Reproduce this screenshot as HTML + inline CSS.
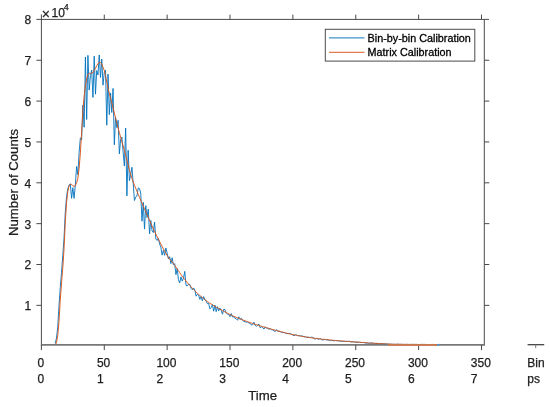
<!DOCTYPE html>
<html><head><meta charset="utf-8"><title>Calibration plot</title>
<style>html,body{margin:0;padding:0;background:#fff}body{width:550px;height:407px;overflow:hidden;position:relative}</style></head>
<body>
<svg width="550" height="407" viewBox="0 0 550 407" style="position:absolute;left:0;top:0">
<rect width="550" height="407" fill="#fff"/>
<polyline fill="none" stroke="#0072BD" stroke-width="0.9" stroke-linejoin="round" points="55.23,343.60 56.49,337.99 57.75,326.73 59.00,305.56 60.26,287.69 61.52,272.35 62.78,255.60 64.03,238.34 65.29,212.19 66.55,196.86 67.81,188.77 69.06,185.13 70.32,183.90 71.58,198.32 72.84,187.70 74.09,198.32 75.35,184.84 76.61,166.46 77.86,174.63 79.12,152.16 80.38,137.87 81.64,139.91 82.89,105.18 84.15,127.24 85.41,56.98 86.67,119.48 87.92,55.35 89.18,90.07 90.44,75.77 91.70,70.05 92.95,97.42 94.21,56.17 95.47,94.16 96.73,70.46 97.98,74.96 99.24,54.94 100.50,77.41 101.76,59.02 103.01,85.17 104.27,72.50 105.53,70.05 106.78,125.20 108.04,74.14 109.30,114.58 110.56,92.93 111.81,112.54 113.07,88.44 114.33,144.81 115.59,117.44 116.84,127.65 118.10,120.30 119.36,153.82 120.62,139.65 121.87,137.01 123.13,151.96 124.39,166.05 125.65,128.06 126.90,195.87 128.16,150.29 129.42,180.62 130.68,174.80 131.93,167.28 133.19,183.28 134.45,200.56 135.71,197.01 136.96,195.98 138.22,187.90 139.48,188.57 140.73,193.01 141.99,221.20 143.25,202.38 144.51,229.05 145.76,205.68 147.02,217.61 148.28,209.08 149.54,233.86 150.79,220.38 152.05,230.79 153.31,232.52 154.57,222.01 155.82,238.91 157.08,240.45 158.34,238.37 159.60,244.04 160.85,246.96 162.11,255.12 163.37,250.48 164.63,255.31 165.88,247.98 167.14,253.09 168.40,258.83 169.65,256.74 170.91,263.64 172.17,257.72 173.43,264.88 174.68,263.61 175.94,274.63 177.20,268.45 178.46,279.78 179.71,282.96 180.97,276.87 182.23,281.12 183.49,278.24 184.74,271.37 186.00,285.29 187.26,285.88 188.52,284.15 189.77,284.52 191.03,288.34 192.29,289.77 193.55,287.96 194.80,289.88 196.06,296.16 197.32,294.23 198.58,295.00 199.83,299.38 201.09,296.51 202.35,300.77 203.60,296.59 204.86,299.76 206.12,300.99 207.38,303.69 208.63,303.32 209.89,308.87 211.15,307.45 212.41,304.59 213.66,311.22 214.92,305.00 216.18,311.61 217.44,306.69 218.69,310.89 219.95,308.08 221.21,310.14 222.47,314.22 223.72,309.26 224.98,309.59 226.24,313.18 227.50,314.21 228.75,314.61 230.01,316.68 231.27,313.59 232.52,317.03 233.78,316.74 235.04,318.51 236.30,318.74 237.55,320.27 238.81,316.79 240.07,319.47 241.33,318.28 242.58,320.17 243.84,321.66 245.10,321.58 246.36,322.35 247.61,322.01 248.87,322.97 250.13,323.29 251.39,325.09 252.64,324.76 253.90,322.16 255.16,325.39 256.42,326.22 257.67,325.00 258.93,324.20 260.19,327.76 261.44,326.76 262.70,327.57 263.96,329.09 265.22,326.89 266.47,328.01 267.73,328.27 268.99,329.40 270.25,328.61 271.50,329.87 272.76,329.85 274.02,331.01 275.28,331.42 276.53,329.61 277.79,331.46 279.05,331.14 280.31,331.73 281.56,332.36 282.82,332.74 284.08,332.26 285.34,333.24 286.59,333.46 287.85,333.65 289.11,333.21 290.37,333.81 291.62,334.27 292.88,335.09 294.14,335.81 295.39,334.72 296.65,334.96 297.91,335.81 299.17,335.68 300.42,335.78 301.68,335.99 302.94,336.17 304.20,337.04 305.45,336.32 306.71,337.79 307.97,337.03 309.23,337.38 310.48,337.41 311.74,337.17 313.00,337.52 314.26,338.74 315.51,339.11 316.77,338.31 318.03,339.14 319.29,338.93 320.54,338.78 321.80,339.78 323.06,340.07 324.31,339.41 325.57,339.62 326.83,339.84 328.09,339.88 329.34,340.27 330.60,340.58 331.86,340.29 333.12,340.63 334.37,340.92 335.63,340.43 336.89,340.69 338.15,340.67 339.40,341.12 340.66,341.13 341.92,341.31 343.18,341.37 344.43,341.20 345.69,341.52 346.95,341.35 348.21,341.45 349.46,341.18 350.72,342.00 351.98,341.61 353.24,341.91 354.49,341.98 355.75,342.35 357.01,342.25 358.26,342.11 359.52,342.35 360.78,342.41 362.04,342.56 363.29,342.40 364.55,342.68 365.81,343.11 367.07,342.95 368.32,343.22 369.58,343.48 370.84,343.16 372.10,342.98 373.35,343.24 374.61,343.47 375.87,343.52 377.13,343.33 378.38,343.52 379.64,343.60 380.90,343.68 382.16,343.74 383.41,343.74 384.67,343.84 385.93,343.95 387.19,344.14 388.44,344.06 389.70,344.22 390.96,344.12 392.21,344.37 393.47,344.31 394.73,344.32 395.99,344.44 397.24,344.20 398.50,344.24 399.76,344.40 401.02,344.31 402.27,344.35 403.53,344.60 404.79,344.38 406.05,344.42 407.30,344.41 408.56,344.51 409.82,344.46 411.08,344.46 412.33,344.36 413.59,344.43 414.85,344.46 416.11,344.36 417.36,344.52 418.62,344.51 419.88,344.62 421.13,344.38 422.39,344.42 423.65,344.43 424.91,344.45 426.16,344.50 427.42,344.49 428.68,344.53 429.94,344.53 431.19,344.51 432.45,344.41 433.71,344.48 434.97,344.52 436.22,344.56 437.48,344.56 438.74,344.40 440.00,344.48"/>
<polyline fill="none" stroke="#D95319" stroke-width="0.95" stroke-linejoin="round" points="55.60,344.90 56.49,342.28 57.75,335.69 59.00,321.16 60.26,300.04 61.52,283.06 62.78,268.23 64.03,249.17 65.29,222.24 66.55,202.64 67.81,191.61 69.06,186.26 70.32,184.21 71.58,184.40 72.84,185.74 74.09,186.46 75.35,185.65 76.61,182.63 77.86,178.52 79.12,168.18 80.38,152.90 81.64,132.31 82.89,111.26 84.15,95.75 85.41,86.11 86.67,78.73 87.92,74.62 89.18,73.24 90.44,73.20 91.70,73.12 92.95,72.63 94.21,70.52 95.47,68.21 96.73,65.72 97.98,63.52 99.24,62.34 100.50,62.49 101.76,63.79 103.01,67.23 104.27,70.45 105.53,75.65 106.78,82.20 108.04,88.27 109.30,93.43 110.56,98.22 111.81,102.99 113.07,107.98 114.33,113.04 115.59,118.10 116.84,123.10 118.10,127.97 119.36,132.64 120.62,137.15 121.87,141.56 123.13,145.99 124.39,150.52 125.65,155.24 126.90,160.01 128.16,164.81 129.42,169.64 130.68,174.26 131.93,178.40 133.19,181.94 134.45,185.16 135.71,188.32 136.96,191.40 138.22,194.41 139.48,197.37 140.73,200.28 141.99,203.16 143.25,206.03 144.51,208.89 145.76,211.76 147.02,214.64 148.28,217.51 149.54,220.36 150.79,223.19 152.05,225.99 153.31,228.73 154.57,231.41 155.82,234.03 157.08,236.56 158.34,239.07 159.60,241.57 160.85,244.05 162.11,246.49 163.37,248.87 164.63,251.15 165.88,253.34 167.14,255.39 168.40,257.30 169.65,259.03 170.91,260.48 172.17,261.94 173.43,263.57 174.68,265.29 175.94,267.08 177.20,268.91 178.46,270.76 179.71,272.61 180.97,274.43 182.23,276.20 183.49,277.89 184.74,279.48 186.00,281.01 187.26,282.51 188.52,283.98 189.77,285.42 191.03,286.82 192.29,288.18 193.55,289.50 194.80,290.78 196.06,292.01 197.32,293.19 198.58,294.34 199.83,295.45 201.09,296.54 202.35,297.59 203.60,298.61 204.86,299.60 206.12,300.56 207.38,301.49 208.63,302.38 209.89,303.24 211.15,304.06 212.41,304.86 213.66,305.63 214.92,306.37 216.18,307.10 217.44,307.82 218.69,308.52 219.95,309.21 221.21,309.90 222.47,310.58 223.72,311.25 224.98,311.92 226.24,312.58 227.50,313.23 228.75,313.86 230.01,314.48 231.27,315.08 232.52,315.67 233.78,316.24 235.04,316.79 236.30,317.32 237.55,317.85 238.81,318.36 240.07,318.86 241.33,319.34 242.58,319.83 243.84,320.30 245.10,320.77 246.36,321.23 247.61,321.69 248.87,322.14 250.13,322.58 251.39,323.02 252.64,323.45 253.90,323.87 255.16,324.29 256.42,324.70 257.67,325.10 258.93,325.50 260.19,325.89 261.44,326.27 262.70,326.64 263.96,327.01 265.22,327.38 266.47,327.74 267.73,328.09 268.99,328.45 270.25,328.80 271.50,329.15 272.76,329.50 274.02,329.84 275.28,330.18 276.53,330.51 277.79,330.84 279.05,331.18 280.31,331.51 281.56,331.84 282.82,332.19 284.08,332.53 285.34,332.86 286.59,333.19 287.85,333.50 289.11,333.80 290.37,334.08 291.62,334.35 292.88,334.61 294.14,334.86 295.39,335.11 296.65,335.36 297.91,335.60 299.17,335.83 300.42,336.06 301.68,336.28 302.94,336.49 304.20,336.70 305.45,336.91 306.71,337.11 307.97,337.30 309.23,337.49 310.48,337.67 311.74,337.85 313.00,338.02 314.26,338.19 315.51,338.36 316.77,338.52 318.03,338.68 319.29,338.83 320.54,338.98 321.80,339.13 323.06,339.28 324.31,339.42 325.57,339.55 326.83,339.68 328.09,339.81 329.34,339.94 330.60,340.06 331.86,340.17 333.12,340.29 334.37,340.40 335.63,340.50 336.89,340.61 338.15,340.71 339.40,340.81 340.66,340.90 341.92,341.00 343.18,341.09 344.43,341.19 345.69,341.28 346.95,341.37 348.21,341.47 349.46,341.56 350.72,341.65 351.98,341.75 353.24,341.84 354.49,341.93 355.75,342.02 357.01,342.11 358.26,342.20 359.52,342.29 360.78,342.38 362.04,342.47 363.29,342.56 364.55,342.64 365.81,342.73 367.07,342.81 368.32,342.89 369.58,342.97 370.84,343.05 372.10,343.13 373.35,343.21 374.61,343.29 375.87,343.37 377.13,343.44 378.38,343.51 379.64,343.58 380.90,343.65 382.16,343.72 383.41,343.79 384.67,343.87 385.93,343.94 387.19,344.01 388.44,344.08 389.70,344.14 390.96,344.20 392.21,344.24 393.47,344.27 394.73,344.30 395.99,344.31 397.24,344.32 398.50,344.33 399.76,344.34 401.02,344.35 402.27,344.36 403.53,344.37 404.79,344.38 406.05,344.39 407.30,344.40 408.56,344.41 409.82,344.42 411.08,344.43 412.33,344.43 413.59,344.44 414.85,344.45 416.11,344.45 417.36,344.46 418.62,344.46 419.88,344.47 421.13,344.47 422.39,344.48 423.65,344.48 424.91,344.48 426.16,344.49 427.42,344.49 428.68,344.49 429.94,344.49 431.19,344.50 432.45,344.50 433.71,344.50 434.97,344.50 436.22,344.50 437.48,344.50"/>
<g stroke="#4a4a4a" stroke-width="1" fill="none" shape-rendering="auto">
<path d="M41.4 14.4V345.4"/>
<path d="M36.4 19.4H489.0"/>
<path d="M484.3 19.4V345.4"/>
</g>
<path d="M40.9 344.9H484.8" stroke="#787878" stroke-width="1.9" fill="none"/>
<g stroke="#4a4a4a" stroke-width="1" fill="none">
<path d="M41.40 344.9v5.2"/>
<path d="M104.27 344.9v5.2"/>
<path d="M104.27 19.4v-4.8"/>
<path d="M167.14 344.9v5.2"/>
<path d="M167.14 19.4v-4.8"/>
<path d="M230.01 344.9v5.2"/>
<path d="M230.01 19.4v-4.8"/>
<path d="M292.88 344.9v5.2"/>
<path d="M292.88 19.4v-4.8"/>
<path d="M355.75 344.9v5.2"/>
<path d="M355.75 19.4v-4.8"/>
<path d="M418.62 344.9v5.2"/>
<path d="M418.62 19.4v-4.8"/>
<path d="M481.49 344.9v5.2"/>
<path d="M481.49 19.4v-4.8"/>
<path d="M41.4 305.35h-5"/>
<path d="M484.3 305.35h5"/>
<path d="M41.4 264.50h-5"/>
<path d="M484.3 264.50h5"/>
<path d="M41.4 223.65h-5"/>
<path d="M484.3 223.65h5"/>
<path d="M41.4 182.80h-5"/>
<path d="M484.3 182.80h5"/>
<path d="M41.4 141.95h-5"/>
<path d="M484.3 141.95h5"/>
<path d="M41.4 101.10h-5"/>
<path d="M484.3 101.10h5"/>
<path d="M41.4 60.25h-5"/>
<path d="M484.3 60.25h5"/>
<path d="M527.6 344.7H544.2" stroke="#3c3c3c" stroke-width="1.25"/><path d="M535.7 344.7v3.4" stroke="#7a7a7a"/>
</g>
<path d="M388 344.9H437.2" stroke="#DF7743" stroke-width="1.5" fill="none"/>
<path d="M437.2 344.9H439.4" stroke="#3F9BE0" stroke-width="1.5" fill="none"/>
<rect x="325.3" y="29.3" width="149.5" height="31.8" fill="#fff" stroke="#4a4a4a" stroke-width="1"/>
<path d="M329 37.9H364.5" stroke="#0072BD" stroke-width="0.95"/>
<path d="M329 52.3H364.5" stroke="#D95319" stroke-width="0.95"/>
<g font-family="Liberation Sans, Arial, sans-serif" fill="#1c1c1c" stroke="#1c1c1c" stroke-width="0.25" font-size="12">
<text x="31.3" y="310.3" text-anchor="end">1</text>
<text x="31.3" y="269.4" text-anchor="end">2</text>
<text x="31.3" y="228.6" text-anchor="end">3</text>
<text x="31.3" y="187.8" text-anchor="end">4</text>
<text x="31.3" y="146.9" text-anchor="end">5</text>
<text x="31.3" y="106.0" text-anchor="end">6</text>
<text x="31.3" y="65.2" text-anchor="end">7</text>
<text x="31.3" y="24.3" text-anchor="end">8</text>
<text x="37.4" y="366.9">0</text>
<text x="37.4" y="382.5">0</text>
<text x="96.9" y="366.9">50</text>
<text x="96.9" y="382.5">1</text>
<text x="156.4" y="366.9">100</text>
<text x="156.4" y="382.5">2</text>
<text x="219.3" y="366.9">150</text>
<text x="219.3" y="382.5">3</text>
<text x="282.2" y="366.9">200</text>
<text x="282.2" y="382.5">4</text>
<text x="345.0" y="366.9">250</text>
<text x="345.0" y="382.5">5</text>
<text x="407.9" y="366.9">300</text>
<text x="407.9" y="382.5">6</text>
<text x="470.8" y="366.9">350</text>
<text x="470.8" y="382.5">7</text>
<text x="527.3" y="366.9">Bin</text><text x="527.3" y="382.5">ps</text>
<text x="41.8" y="19.0" font-size="14">×</text><text x="51.5" y="16.6">10</text><text x="63.8" y="10.3" font-size="9">4</text>
<g fill="#000" stroke="#000" stroke-width="0.3" font-size="10.8"><text x="367.6" y="41.9">Bin-by-bin Calibration</text><text x="367.6" y="56.4">Matrix Calibration</text></g>
</g>
<g font-family="Liberation Sans, Arial, sans-serif" fill="#1c1c1c" stroke="#1c1c1c" stroke-width="0.25" font-size="13.2">
<text x="262.6" y="399.8" text-anchor="middle">Time</text>
<text transform="translate(17.7,182.5) rotate(-90)" text-anchor="middle">Number of Counts</text>
</g>
</svg>
</body></html>
